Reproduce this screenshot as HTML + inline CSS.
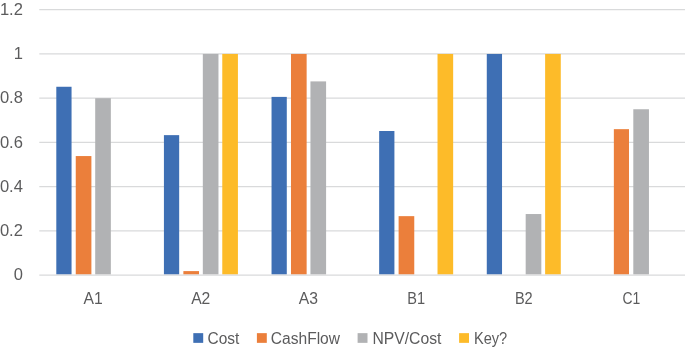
<!DOCTYPE html><html><head><meta charset="utf-8"><title>Chart</title><style>html,body{margin:0;padding:0;background:#fff}svg{display:block}text{font-family:"Liberation Sans",sans-serif;font-size:16.5px;fill:#5b5b5c}</style></head><body>
<svg width="685" height="349" viewBox="0 0 685 349">
<rect width="685" height="349" fill="#fff"/>
<line x1="39.30" x2="685" y1="230.86" y2="230.86" stroke="#d9dadb" stroke-width="1.3"/>
<line x1="39.30" x2="685" y1="186.62" y2="186.62" stroke="#d9dadb" stroke-width="1.3"/>
<line x1="39.30" x2="685" y1="142.38" y2="142.38" stroke="#d9dadb" stroke-width="1.3"/>
<line x1="39.30" x2="685" y1="98.14" y2="98.14" stroke="#d9dadb" stroke-width="1.3"/>
<line x1="39.30" x2="685" y1="53.90" y2="53.90" stroke="#d9dadb" stroke-width="1.3"/>
<line x1="39.30" x2="685" y1="9.66" y2="9.66" stroke="#d9dadb" stroke-width="1.3"/>
<rect x="56.30" y="86.76" width="15.25" height="187.74" fill="#3e6fb4"/>
<rect x="75.75" y="156.06" width="15.65" height="118.44" fill="#eb7f3b"/>
<rect x="95.20" y="98.19" width="15.65" height="176.31" fill="#b1b2b4"/>
<rect x="163.92" y="135.14" width="15.25" height="139.36" fill="#3e6fb4"/>
<rect x="183.37" y="271.10" width="15.65" height="3.40" fill="#eb7f3b"/>
<rect x="202.82" y="53.95" width="15.65" height="220.55" fill="#b1b2b4"/>
<rect x="222.27" y="53.95" width="15.65" height="220.55" fill="#fdbb29"/>
<rect x="271.54" y="96.90" width="15.25" height="177.60" fill="#3e6fb4"/>
<rect x="290.99" y="53.95" width="15.65" height="220.55" fill="#eb7f3b"/>
<rect x="310.44" y="81.40" width="15.65" height="193.10" fill="#b1b2b4"/>
<rect x="379.16" y="131.00" width="15.25" height="143.50" fill="#3e6fb4"/>
<rect x="398.61" y="216.15" width="15.65" height="58.35" fill="#eb7f3b"/>
<rect x="437.51" y="53.95" width="15.65" height="220.55" fill="#fdbb29"/>
<rect x="486.78" y="53.95" width="15.25" height="220.55" fill="#3e6fb4"/>
<rect x="525.68" y="214.04" width="15.65" height="60.46" fill="#b1b2b4"/>
<rect x="545.13" y="53.95" width="15.65" height="220.55" fill="#fdbb29"/>
<rect x="613.85" y="129.16" width="15.15" height="145.34" fill="#eb7f3b"/>
<rect x="633.30" y="109.25" width="15.65" height="165.25" fill="#b1b2b4"/>
<line x1="39.30" x2="685" y1="275.10" y2="275.10" stroke="#d9dadb" stroke-width="1.3"/>
<text x="13.70" y="280.30" textLength="9.2" lengthAdjust="spacingAndGlyphs">0</text>
<text x="-0.10" y="236.06" textLength="23.0" lengthAdjust="spacingAndGlyphs">0.2</text>
<text x="-0.10" y="191.82" textLength="23.0" lengthAdjust="spacingAndGlyphs">0.4</text>
<text x="-0.10" y="147.58" textLength="23.0" lengthAdjust="spacingAndGlyphs">0.6</text>
<text x="-0.10" y="103.34" textLength="23.0" lengthAdjust="spacingAndGlyphs">0.8</text>
<text x="13.70" y="59.10" textLength="9.2" lengthAdjust="spacingAndGlyphs">1</text>
<text x="-0.10" y="14.86" textLength="23.0" lengthAdjust="spacingAndGlyphs">1.2</text>
<text x="83.51" y="303.8" textLength="19.2" lengthAdjust="spacingAndGlyphs">A1</text>
<text x="191.13" y="303.8" textLength="19.2" lengthAdjust="spacingAndGlyphs">A2</text>
<text x="298.75" y="303.8" textLength="19.2" lengthAdjust="spacingAndGlyphs">A3</text>
<text x="407.27" y="303.8" textLength="17.8" lengthAdjust="spacingAndGlyphs">B1</text>
<text x="514.89" y="303.8" textLength="17.8" lengthAdjust="spacingAndGlyphs">B2</text>
<text x="622.51" y="303.8" textLength="17.8" lengthAdjust="spacingAndGlyphs">C1</text>
<rect x="193.3" y="333.15" width="9.9" height="9.7" fill="#3e6fb4"/>
<text x="207.5" y="343.6" style="font-size:16px" textLength="31.8" lengthAdjust="spacingAndGlyphs">Cost</text>
<rect x="256.9" y="333.15" width="9.9" height="9.7" fill="#eb7f3b"/>
<text x="270.8" y="343.6" style="font-size:16px" textLength="69.2" lengthAdjust="spacingAndGlyphs">CashFlow</text>
<rect x="357.6" y="333.15" width="9.9" height="9.7" fill="#b1b2b4"/>
<text x="372.4" y="343.6" style="font-size:16px" textLength="69.0" lengthAdjust="spacingAndGlyphs">NPV/Cost</text>
<rect x="459.1" y="333.15" width="9.9" height="9.7" fill="#fdbb29"/>
<text x="473.9" y="343.6" style="font-size:16px" textLength="33.3" lengthAdjust="spacingAndGlyphs">Key?</text>
</svg></body></html>
